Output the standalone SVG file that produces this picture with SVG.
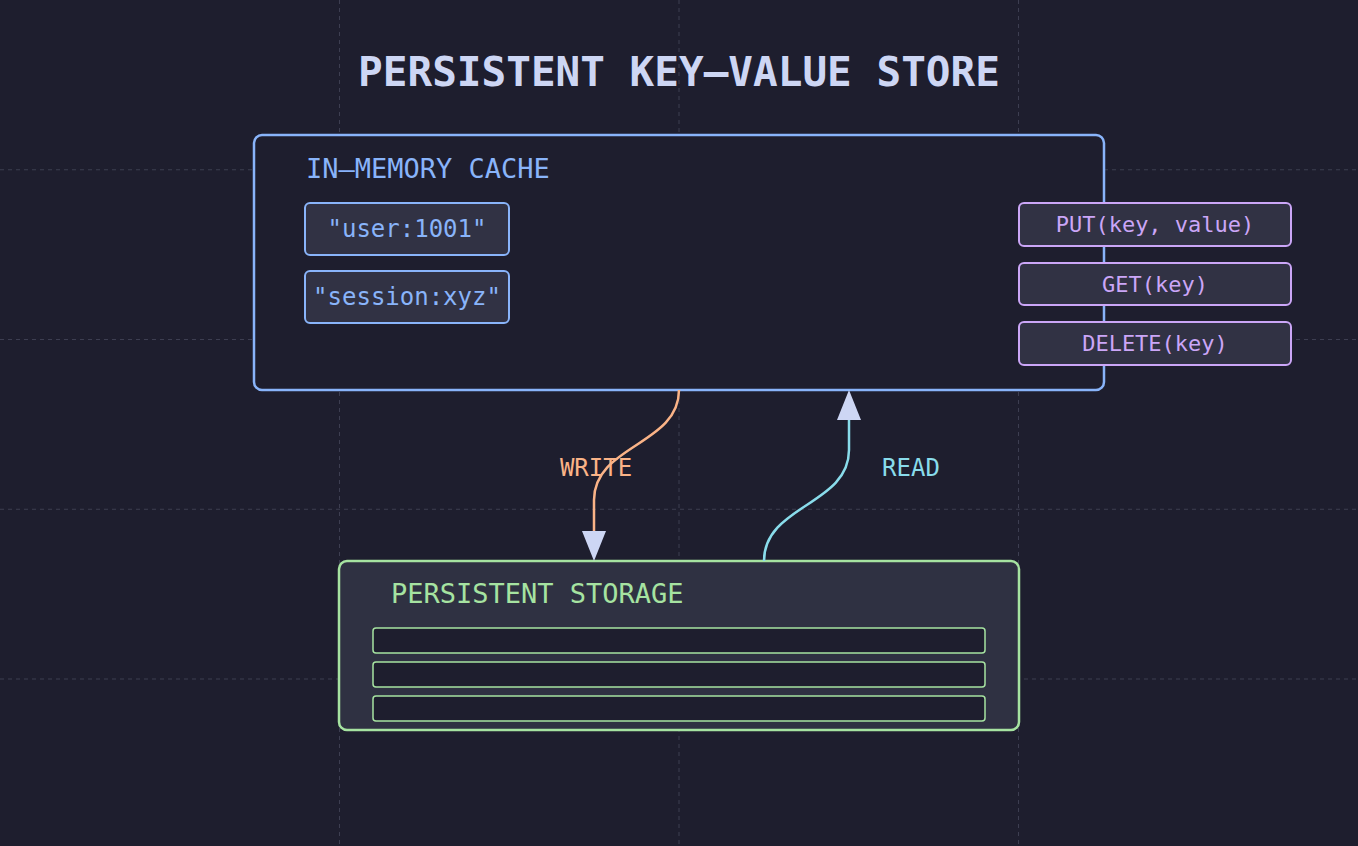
<svg xmlns="http://www.w3.org/2000/svg" width="1358" height="846" viewBox="0 0 1358 846">
<defs>
<style>
.grid{stroke:#45475a;stroke-width:1;stroke-dasharray:4 4;opacity:0.8}
.mono{font-family:"DejaVu Sans Mono","Liberation Mono",monospace}
.title{font-size:41px;font-weight:bold;fill:#cdd6f4;text-anchor:middle}
.sec{font-size:27px}
.key{font-size:24px;fill:#89b4fa;text-anchor:middle}
.op{font-size:22px;fill:#cba6f7;text-anchor:middle}
.keybox{fill:#313244;stroke:#89b4fa;stroke-width:2}
.opbox{fill:#313244;stroke:#cba6f7;stroke-width:2}
.row{fill:#1e1e2e;stroke:#a6e3a1;stroke-width:1.5}
.conn{fill:none;stroke-width:2.5}
.lbl{font-size:24px;text-anchor:middle}
</style>
<marker id="arr" viewBox="0 0 30 24" refX="1" refY="12" markerWidth="30" markerHeight="24" markerUnits="userSpaceOnUse" orient="auto">
<path d="M0,0 L30,12 L0,24 Z" fill="#cdd6f4"/>
</marker>
</defs>
<rect width="1358" height="846" fill="#1e1e2e"/>
<g id="grid">
<line class="grid" x1="339.5" y1="0" x2="339.5" y2="846"/>
<line class="grid" x1="679" y1="0" x2="679" y2="846"/>
<line class="grid" x1="1018.5" y1="0" x2="1018.5" y2="846"/>
<line class="grid" x1="0" y1="169.75" x2="1358" y2="169.75"/>
<line class="grid" x1="0" y1="339.5" x2="1358" y2="339.5"/>
<line class="grid" x1="0" y1="509.25" x2="1358" y2="509.25"/>
<line class="grid" x1="0" y1="679" x2="1358" y2="679"/>
</g>
<text class="mono title" x="679" y="86">PERSISTENT KEY–VALUE STORE</text>
<g id="cache">
<rect x="254" y="135" width="850" height="255" rx="8" fill="#1e1e2e" stroke="#89b4fa" stroke-width="2.5"/>
<text class="mono sec" x="306" y="178" fill="#89b4fa">IN–MEMORY CACHE</text>
</g>
<g id="key-user">
<rect class="keybox" x="305" y="203" width="204" height="52" rx="5"/>
<text class="mono key" x="407" y="237">"user:1001"</text>
</g>
<g id="key-session">
<rect class="keybox" x="305" y="271" width="204" height="52" rx="5"/>
<text class="mono key" x="407" y="305">"session:xyz"</text>
</g>
<g id="op-put">
<rect class="opbox" x="1019" y="203" width="272" height="43" rx="5"/>
<text class="mono op" x="1155" y="232">PUT(key, value)</text>
</g>
<g id="op-get">
<rect class="opbox" x="1019" y="263" width="272" height="42" rx="5"/>
<text class="mono op" x="1155" y="292">GET(key)</text>
</g>
<g id="op-delete">
<rect class="opbox" x="1019" y="322" width="272" height="43" rx="5"/>
<text class="mono op" x="1155" y="351">DELETE(key)</text>
</g>
<g id="storage">
<rect x="339" y="561" width="680" height="169" rx="8" fill="#2f3142" stroke="#a6e3a1" stroke-width="2.5"/>
<text class="mono sec" x="391" y="603" fill="#a6e3a1">PERSISTENT STORAGE</text>
<rect class="row" x="373" y="628" width="612" height="25" rx="3"/>
<rect class="row" x="373" y="662" width="612" height="25" rx="3"/>
<rect class="row" x="373" y="696" width="612" height="25" rx="3"/>
</g>
<g id="connectors">
<path class="conn" stroke="#fab387" d="M679,390 C679,445 594,445 594,500 L594,532" marker-end="url(#arr)"/>
<text class="mono lbl" x="596" y="476" fill="#fab387">WRITE</text>
<path class="conn" stroke="#89dceb" d="M764,561 C764,505 849,505 849,450 L849,419" marker-end="url(#arr)"/>
<text class="mono lbl" x="911" y="476" fill="#89dceb">READ</text>
</g>
</svg>
